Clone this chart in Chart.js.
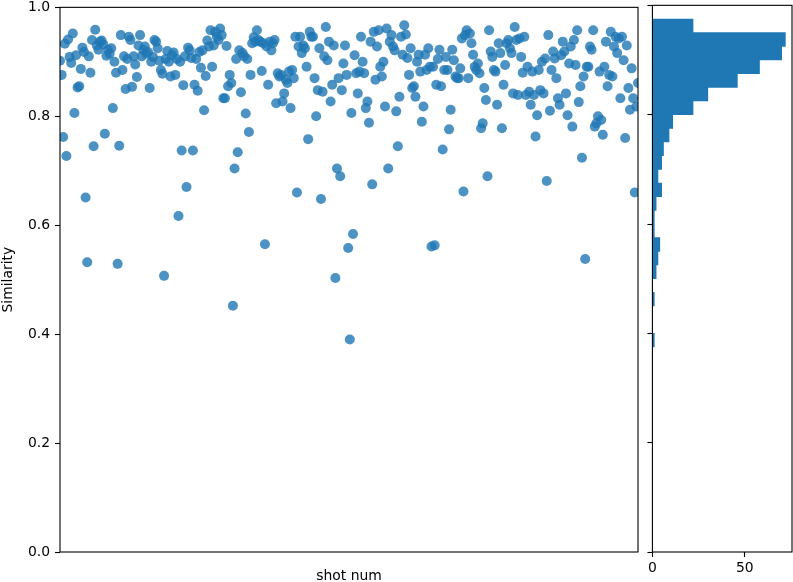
<!DOCTYPE html>
<html>
<head>
<meta charset="utf-8">
<script src="https://cdn.jsdelivr.net/npm/chart.js@4"></script>
<style>
  html, body { margin: 0; padding: 0; background: #fff; overflow: hidden; }
  #wrap { position: relative; width: 793px; height: 582px; overflow: hidden; }
  #scatter { position: absolute; left: 0; top: -6px; }
  #hist { position: absolute; left: 645px; top: -6px; }
</style>
</head>
<body>
<div id="wrap">
  <canvas id="scatter" width="645" height="588"></canvas>
  <canvas id="hist" width="148" height="588"></canvas>
</div>
<script>
// similarity per shot, in shot order
const similarity = [
  0.902,0.876,0.762,0.933,0.727,0.941,0.909,0.898,0.952,0.806,
  0.912,0.853,0.855,0.887,0.926,0.918,0.651,0.532,0.910,0.880,
  0.940,0.745,0.959,0.930,0.922,0.937,0.939,0.932,0.768,0.911,
  0.922,0.915,0.925,0.815,0.900,0.880,0.529,
  0.746,0.949,0.885,0.910,0.850,0.905,0.946,0.940,0.854,0.910,
  0.895,0.872,0.930,0.949,0.910,0.922,0.928,0.915,0.918,0.852,
  0.900,0.909,0.940,0.937,0.925,0.902,0.885,0.878,0.507,0.905,
  0.920,0.900,0.873,0.912,
  0.917,0.876,0.905,0.617,0.900,0.737,0.857,0.910,0.670,0.926,
  0.921,0.907,0.737,0.858,0.905,0.847,0.918,0.889,0.921,0.811,
  0.874,0.939,0.928,0.958,0.891,0.930,0.955,0.946,0.940,0.961,
  0.949,0.833,0.833,0.929,0.855,0.876,0.861,0.452,0.704,0.905,
  0.734,0.921,0.844,0.916,0.910,0.805,0.905,0.771,0.876,0.934,
  0.945,0.937,0.958,0.940,0.937,0.883,0.934,0.565,0.928,0.858,
  0.937,0.921,0.934,0.940,0.824,0.879,0.873,0.876,0.827,0.842,
  0.867,0.861,0.882,0.815,
  0.885,0.870,0.946,0.660,0.928,0.946,0.916,0.930,0.925,0.891,
  0.758,0.955,0.946,0.946,0.870,0.800,0.848,0.925,0.648,0.845,
  0.910,0.964,0.903,0.937,0.827,0.858,0.930,0.503,0.704,0.870,
  0.690,0.848,0.897,0.930,0.876,0.558,0.390,0.806,0.584,0.912,
  0.879,0.842,0.882,0.946,0.900,0.879,0.815,0.827,0.788,0.937,
  0.675,0.955,0.867,0.928,0.958,0.891,0.873,0.900,0.818,0.961,
  0.704,0.937,0.949,0.928,0.921,0.809,0.745,0.836,0.946,
  0.913,0.967,0.950,0.907,0.876,0.925,0.852,0.855,0.836,0.900,
  0.913,0.882,0.790,0.818,0.913,0.885,0.925,0.891,0.561,0.891,
  0.563,0.858,0.905,0.922,0.855,0.739,0.885,0.909,0.885,0.776,
  0.812,0.922,0.903,0.873,0.870,0.870,0.888,0.943,0.662,0.949,
  0.958,0.870,0.952,0.934,0.913,0.891,0.885,0.897,0.879,0.778,
  0.787,0.852,0.830,0.690,0.958,0.919,0.909,0.885,0.882,0.821,
  0.934,0.916,0.778,0.858,0.894,0.934,0.940,0.925,0.916,0.842,
  0.964,0.940,
  0.839,0.943,0.909,0.880,0.946,0.839,0.891,0.845,0.821,0.882,
  0.839,0.763,0.802,0.885,0.848,0.900,0.842,0.906,0.681,0.949,
  0.810,0.885,0.919,0.906,0.870,0.833,0.821,0.912,0.937,0.919,
  0.842,0.802,0.897,0.928,0.781,0.940,0.894,0.958,0.826,0.855,
  0.724,0.873,0.538,0.891,0.891,0.928,0.922,0.958,0.781,0.787,
  0.800,0.882,0.793,0.766,0.891,0.937,0.855,0.876,0.955,0.873,
  0.928,0.946,0.916,0.943,0.833,0.946,0.903,0.760,0.930,0.852,
  0.812,0.888,0.833,0.660,0.818,0.861
];

// histogram bins (lower edge, width 0.025) and counts
const binLower = [0.375,0.400,0.425,0.450,0.475,0.500,0.525,0.550,0.575,0.600,
                  0.625,0.650,0.675,0.700,0.725,0.750,0.775,0.800,0.825,0.850,
                  0.875,0.900,0.925,0.950];
const binCounts = [1,0,0,1,0,2,3,4,1,1,
                   2,5,3,5,6,9,11,22,30,46,
                   58,70,72,22];
const binWidth = 0.025;

const blue = '#1f77b4';
Chart.defaults.font.family = 'DejaVu Sans';
Chart.defaults.font.size = 13.9;
Chart.defaults.color = '#000';

// full box around the plot area, like matplotlib spines
const frame = {
  id: 'frame',
  afterDraw(chart) {
    const a = chart.chartArea;
    const c = chart.ctx;
    c.save();
    c.strokeStyle = '#000';
    c.lineWidth = 1.1;
    c.strokeRect(a.left, a.top, a.right - a.left, a.bottom - a.top);
    c.restore();
  }
};

const tickGrid = { drawOnChartArea: false, drawTicks: true, tickLength: 5, tickWidth: 1.1, tickColor: '#000', offset: false };

new Chart(document.getElementById('scatter'), {
  type: 'scatter',
  data: {
    datasets: [{
      data: similarity.map((v, i) => ({ x: i, y: v })),
      backgroundColor: 'rgba(31,119,180,0.8)',
      borderWidth: 0,
      pointRadius: 5,
      pointHoverRadius: 5,
      clip: 0
    }]
  },
  options: {
    responsive: false,
    animation: false,
    events: [],
    layout: { padding: { top: 0, right: 7, bottom: 0, left: 0 } },
    plugins: { legend: { display: false }, tooltip: { enabled: false } },
    scales: {
      x: {
        type: 'linear',
        min: 0,
        max: similarity.length - 1,
        ticks: { display: false },
        grid: { display: false },
        border: { display: false },
        title: { display: true, text: 'shot num', padding: { top: 0, bottom: -3 } },
        afterFit(s) { s.height = 30; }
      },
      y: {
        min: 0,
        max: 1,
        ticks: { stepSize: 0.2, padding: 5, callback: v => v.toFixed(1) },
        grid: tickGrid,
        border: { display: false },
        title: { display: true, text: 'Similarity', padding: { top: 0, bottom: 0 } },
        afterFit(s) { s.width = 60; }
      }
    }
  },
  plugins: [frame]
});

new Chart(document.getElementById('hist'), {
  type: 'bar',
  data: {
    datasets: [{
      data: binLower.map((b, i) => ({ x: binCounts[i], y: b + binWidth / 2 })),
      backgroundColor: blue,
      borderWidth: 0,
      barPercentage: 1,
      categoryPercentage: 1
    }]
  },
  options: {
    indexAxis: 'y',
    responsive: false,
    animation: false,
    events: [],
    layout: { padding: { top: 0, right: 1, bottom: 0, left: 0 } },
    plugins: { legend: { display: false }, tooltip: { enabled: false } },
    scales: {
      x: {
        type: 'linear',
        min: 0,
        max: 75.6,
        ticks: { stepSize: 50, padding: 3 },
        afterBuildTicks(s) { s.ticks = s.ticks.filter(t => t.value % 50 === 0); },
        grid: tickGrid,
        border: { display: false },
        afterFit(s) { s.height = 30; }
      },
      y: {
        type: 'linear',
        offset: false,
        min: 0,
        max: 1,
        ticks: { stepSize: 0.2, callback: () => '' },
        grid: tickGrid,
        border: { display: false },
        afterFit(s) { s.width = 6; }
      }
    }
  },
  plugins: [frame]
});
</script>
</body>
</html>
